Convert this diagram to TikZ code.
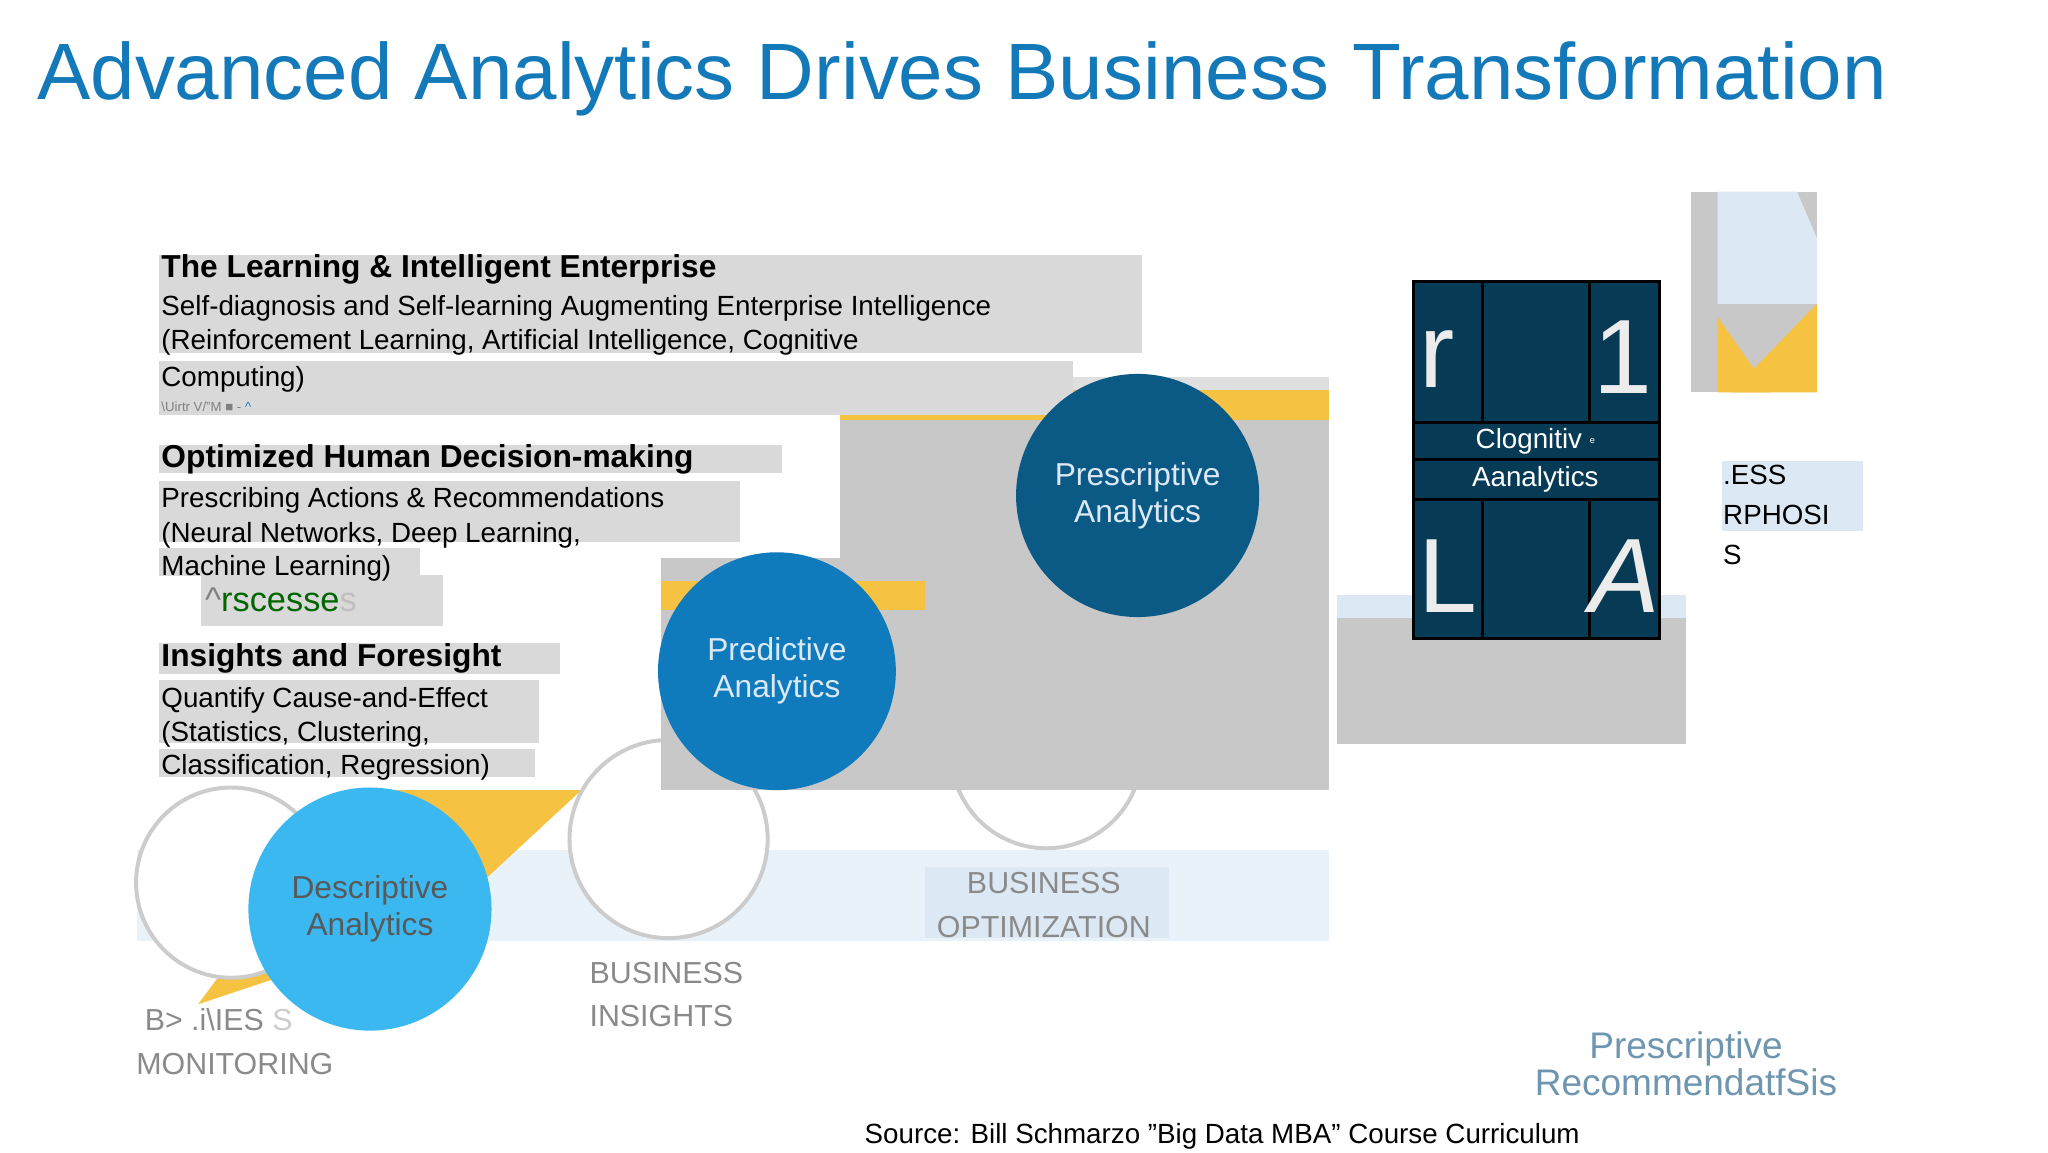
\documentclass[tikz,border=0pt]{standalone}
\usepackage{fontspec}
\setmainfont{Liberation Sans}
\definecolor{ttl}{HTML}{1479B8}
\definecolor{gbox}{HTML}{D9D9D9}
\definecolor{gbig}{HTML}{C8C8C8}
\definecolor{dkb}{HTML}{0B5A86}
\definecolor{mdb}{HTML}{0F7BBD}
\definecolor{ltb}{HTML}{3BB8F0}
\definecolor{tbl}{HTML}{063A55}
\definecolor{ylw}{HTML}{F5C242}
\definecolor{pale}{HTML}{DCE9F5}
\definecolor{lbl}{HTML}{8A8A8A}
\begin{document}
\begin{tikzpicture}[x=1pt,y=-1pt,
  hd/.style={anchor=west,font=\fontsize{24}{26}\selectfont\bfseries,inner sep=0},
  bd/.style={anchor=west,font=\fontsize{21}{24}\selectfont,inner sep=0},
  ctext/.style={text=pale,font=\fontsize{24}{28}\selectfont,align=center},
  glbl/.style={text=lbl,font=\fontsize{23}{33}\selectfont,align=left,anchor=north west,inner sep=0},
  big/.style={text=white!85!gray,font=\fontsize{80}{80}\selectfont,inner sep=0}]
\useasboundingbox (0,0) rectangle (1550,872);
\fill[white] (0,0) rectangle (1550,872);
\node[anchor=west,text=ttl,font=\fontsize{60.5}{62}\selectfont,inner sep=0] (title) at (28,60) {Advanced Analytics Drives Business Transformation};
% background graphic
\fill[pale!60] (104,598) rectangle (1006,712);
\fill[white] (104,598) rectangle (1006,643);
\fill[ylw] (150,760) -- (270,598) -- (440,598) -- (330,700) -- cycle;
\draw[gray!40,line width=3,fill=white] (175,668) circle (72);
\draw[gray!40,line width=3,fill=white] (506,635) circle (75);
\draw[gray!40,line width=3] (792,570) circle (72);
\fill[gbig] (500,422) rectangle (1006,598);
\fill[gbig] (636,318) rectangle (1006,598);
\fill[ylw] (636,295) rectangle (1006,318);
\fill[white!75!gray] (636,285) rectangle (1006,295);
\fill[ylw] (500,440) rectangle (700,462);
\fill[gbig] (1012,450) rectangle (1276,563);
\fill[pale] (1012,450) rectangle (1276,468);
\fill[gbig] (1280,145) rectangle (1375,297);
\fill[pale] (1300,145) -- (1360,145) -- (1375,180) -- (1375,230) -- (1300,230) -- cycle;
\fill[ylw] (1310,297) -- (1375,230) -- (1375,297) -- cycle;
\fill[ylw] (1300,240) -- (1340,297) -- (1300,297) -- cycle;
% text boxes
\fill[gbox] (120,193) rectangle (864,267);
\fill[gbox] (120,273) rectangle (812,314);
\fill[gbox] (120,337) rectangle (592,358);
\fill[gbox] (120,364) rectangle (560,410);
\fill[gbox] (120,415) rectangle (318,440);
\fill[gbox] (152,435) rectangle (335,474);
\fill[gbox] (120,487) rectangle (424,510);
\fill[gbox] (120,515) rectangle (408,562);
\fill[gbox] (120,567) rectangle (405,588);
\node[hd] (h1) at (122,204) {The Learning \& Intelligent Enterprise};
\node[bd] (b1a) at (122,233) {Self-diagnosis and Self-learning Augmenting Enterprise Intelligence};
\node[bd] (b1b) at (122,259) {(Reinforcement Learning, Artificial Intelligence, Cognitive};
\node[bd] (b1c) at (122,287) {Computing)};
\node[anchor=west,inner sep=0,text=gray,font=\fontsize{10}{10}\selectfont] (jk) at (122,308) {\textbackslash Uirtr V/"M ■ - \textcolor{mdb}{\^{}}};
\node[hd] (h2) at (122,348) {Optimized Human Decision-making};
\node[bd] (b2a) at (122,379) {Prescribing Actions \& Recommendations};
\node[bd] (b2b) at (122,405) {(Neural Networks, Deep Learning,};
\node[bd] (b2c) at (122,430) {Machine Learning)};
\fill[white] (120,436) rectangle (152,445);
\node[anchor=west,inner sep=0,font=\fontsize{26}{28}\selectfont,text=green!40!black] (rs) at (155,454) {\textcolor{gray}{\^{}}rscesse\textcolor{gray!50}{s}};
\node[hd] (h3) at (122,498) {Insights and Foresight};
\node[bd] (b3a) at (122,530) {Quantify Cause-and-Effect};
\node[bd] (b3b) at (122,556) {(Statistics, Clustering,};
\node[bd] (b3c) at (122,581) {Classification, Regression)};
% circles
\node[circle,fill=dkb,minimum size=184,ctext] (pres) at (861,375) {Prescriptive\\Analytics};
\node[circle,fill=mdb,minimum size=180,ctext] (pred) at (588,508) {Predictive\\Analytics};
\node[circle,fill=ltb,minimum size=184,ctext,text=gray!70!black] (desc) at (280,688) {Descriptive\\Analytics};
% table
\fill[tbl] (1070,213) rectangle (1256,483);
\draw[black,line width=2] (1070,213) rectangle (1256,483)
  (1122,213) -- (1122,320) (1203,213) -- (1203,320)
  (1122,378) -- (1122,483) (1203,378) -- (1203,483)
  (1070,320) -- (1256,320) (1070,348) -- (1256,348) (1070,378) -- (1256,378);
\node[big] (tr) at (1088,272) {r};
\node[big] (t1) at (1228,270) {1};
\node[big] (tL) at (1096,436) {L};
\node[big] (tA) at (1230,436) {\itshape A};
\node[text=white,font=\fontsize{21}{24}\selectfont,inner sep=0] (cog) at (1162,334) {Clognitiv \raisebox{4pt}{\scriptsize e}};
\node[text=white,font=\fontsize{21}{24}\selectfont,inner sep=0] (aan) at (1162,363) {Aanalytics};
\fill[pale] (1303,349) rectangle (1410,402);
\node[anchor=north west,inner sep=0,align=left,font=\fontsize{21}{30}\selectfont] (ess) at (1304,352) {.ESS\\RPHOSI\\S};
% bottom labels
\fill[pale] (700,656) rectangle (885,710);
\node[glbl,align=center,anchor=north] (bo) at (790,660) {BUSINESS\\OPTIMIZATION};
\node[glbl] (bi) at (446,728) {BUSINESS\\INSIGHTS};
\node[glbl] (bm) at (103,763) {\ B> .i\textbackslash IES \textcolor{gray!40}{S}\\MONITORING};
\node[text=ttl!50!gray!80,font=\fontsize{28}{28}\selectfont,align=center,inner sep=0] (pr) at (1276,805) {Prescriptive\\RecommendatfSis};
\node[font=\fontsize{21}{24}\selectfont,inner sep=0,anchor=south] (src) at (925,870) {Source: Bill Schmarzo "Big Data MBA'' Course Curriculum};
\end{tikzpicture}
\end{document}
